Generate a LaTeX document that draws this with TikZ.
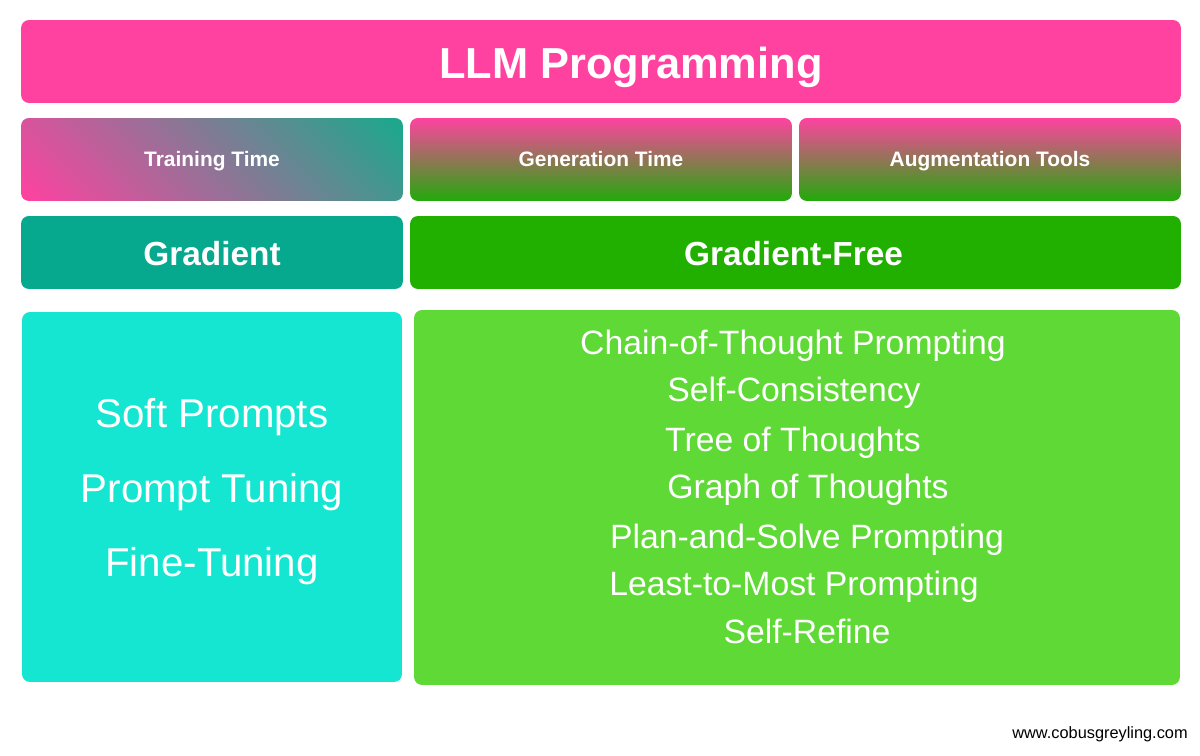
\documentclass[tikz,border=0pt]{standalone}
\usepackage{fontspec}
\setmainfont{Liberation Sans}
\usepackage{tikz}
\usetikzlibrary{positioning}

\definecolor{llmpink}{HTML}{FF42A0}
\definecolor{trainteal}{HTML}{1AA98C}
\definecolor{genGreen}{HTML}{22AA0A}
\definecolor{gradteal}{HTML}{06A88E}
\definecolor{freegreen}{HTML}{21AF00}
\definecolor{softcyan}{HTML}{14E6D2}
\definecolor{listgreen}{HTML}{5ED935}

% corner to corner blend for the training box
\pgfdeclareverticalshading{trainblend}{100bp}{color(0bp)=(llmpink); color(15bp)=(llmpink); color(85bp)=(trainteal); color(100bp)=(trainteal)}

\begin{document}
\begin{tikzpicture}[x=0.02cm,y=-0.02cm,
  panel/.style={rounded corners=4.5pt,inner sep=0pt,text=white},
  headtxt/.style={text=white,anchor=base,font=\fontsize{24.7}{28}\selectfont\bfseries},
  phasetxt/.style={text=white,anchor=base,font=\fontsize{11.9}{14}\selectfont\bfseries},
  kindtxt/.style={text=white,anchor=base,font=\fontsize{19}{22}\selectfont\bfseries},
  softtxt/.style={text=white,anchor=base,font=\fontsize{22.9}{26}\selectfont},
  freetxt/.style={text=white,anchor=base,font=\fontsize{19.2}{22}\selectfont}]
  \useasboundingbox (0,0) rectangle (1200,756);

  % top banner
  \node[panel,fill=llmpink,minimum width=23.2cm,minimum height=1.66cm] (llm) at (601,61.5) {};
  \node[headtxt] (llmtxt) at (631,79) {LLM Programming};

  % phases
  \node[panel,shade,shading=trainblend,shading angle=-45,
    minimum width=7.64cm,minimum height=1.66cm] (train) at (212,159.5) {};
  \node[panel,top color=llmpink,bottom color=genGreen,
    minimum width=7.64cm,minimum height=1.66cm] (gen) at (601,159.5) {};
  \node[panel,top color=llmpink,bottom color=genGreen,
    minimum width=7.64cm,minimum height=1.66cm] (aug) at (990,159.5) {};
  \node[phasetxt] (traintxt) at (212,167) {Training Time};
  \node[phasetxt] (gentxt) at (601,167) {Generation Time};
  \node[phasetxt] (augtxt) at (990,167) {Augmentation Tools};

  % gradient / gradient-free
  \node[panel,fill=gradteal,minimum width=7.64cm,minimum height=1.46cm] (grad) at (212,252.5) {};
  \node[panel,fill=freegreen,minimum width=15.42cm,minimum height=1.46cm] (free) at (795.5,252.5) {};
  \node[kindtxt] (gradtxt) at (212,266) {Gradient};
  \node[kindtxt] (freetxt) at (793.5,266) {Gradient-Free};

  % methods
  \node[panel,fill=softcyan,minimum width=7.6cm,minimum height=7.4cm] (soft) at (212,497) {};
  \node[panel,fill=listgreen,minimum width=15.32cm,minimum height=7.5cm] (list) at (797,497.5) {};

  \node[softtxt] (sp) at (212,428) {Soft Prompts};
  \node[softtxt] (pt) at (212,502) {Prompt Tuning};
  \node[softtxt] (ft) at (212,576) {Fine-Tuning};

  \node[freetxt] (cot) at (793,355) {Chain-of-Thought Prompting};
  \node[freetxt] (sc)  at (794,402) {Self-Consistency};
  \node[freetxt] (tot) at (793,452) {Tree of Thoughts};
  \node[freetxt] (got) at (808,499) {Graph of Thoughts};
  \node[freetxt] (ps)  at (807,548) {Plan-and-Solve Prompting};
  \node[freetxt] (ltm) at (794,595) {Least-to-Most Prompting};
  \node[freetxt] (sr)  at (807,643) {Self-Refine};

  \node[anchor=base east,inner sep=0pt,font=\fontsize{9.3}{11}\selectfont] (site) at (1188,738) {www.cobusgreyling.com};
\end{tikzpicture}
\end{document}
